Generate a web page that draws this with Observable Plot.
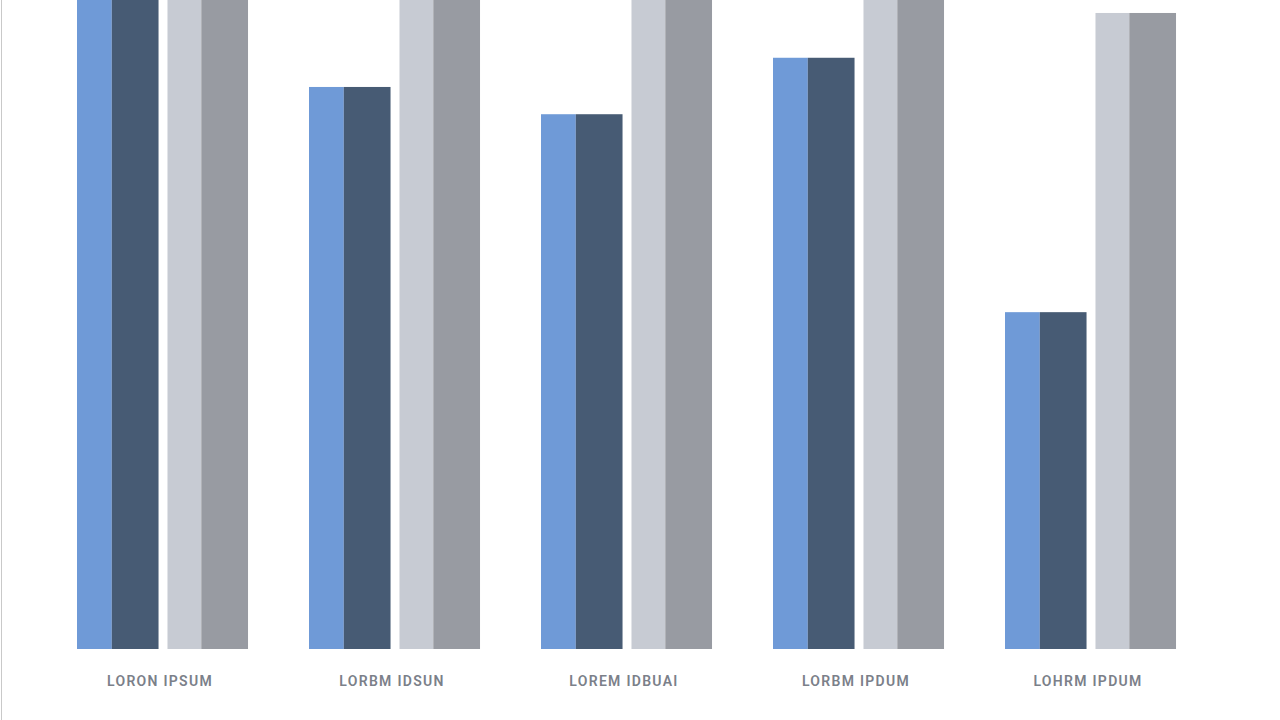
<!DOCTYPE html>
<html>
<head>
<meta charset="utf-8">
<script src="https://cdn.jsdelivr.net/npm/d3@7"></script>
<script src="https://cdn.jsdelivr.net/npm/@observablehq/plot@0.6"></script>
<style>
  html, body { margin: 0; padding: 0; background: #ffffff; }
  #chart { width: 1280px; height: 720px; position: relative; overflow: hidden; }
  #chart::before { content: ""; position: absolute; left: 1px; top: 0; bottom: 0; width: 1px; background: #c9c9c9; }
  #chart svg text { letter-spacing: 1.3px; font-weight: 600; }
</style>
</head>
<body>
<div id="chart"></div>
<script>
// Category labels (as printed under each group)
const groups = ["LORON IPSUM", "LORBM IDSUN", "LOREM IDBUAI", "LORBM IPDUM", "LOHRM IPDUM"];
// Blue series (front + side faces share one value); values above 100 run off the top
const blueValues = [106, 86.6, 82.4, 91.1, 51.9];
// Gray series
const grayValues = [106, 106, 106, 106, 98.0];

// Face names and colours
const faces = ["blue front", "blue side", "gray front", "gray side"];
const faceColors = ["#6f9ad7", "#475b74", "#c7cbd3", "#989ba2"];

// Layout of faces within a group (in group-width units 0..176)
const faceSpan = {
  "blue front": [0, 35],
  "blue side": [35, 82],
  "gray front": [91, 125],
  "gray side": [125, 172]
};

const rows = [];
groups.forEach((g, i) => {
  for (const f of faces) {
    const v = f.startsWith("blue") ? blueValues[i] : grayValues[i];
    rows.push({group: g, face: f, x1: faceSpan[f][0], x2: faceSpan[f][1], value: v});
  }
});

const chart = Plot.plot({
  width: 1280,
  height: 720,
  marginTop: 0,
  marginBottom: 71,
  marginLeft: 76,
  marginRight: 98,
  style: {fontFamily: "Roboto, 'DejaVu Sans', sans-serif", background: "#ffffff"},
  fx: {domain: groups, paddingInner: 0.245, paddingOuter: 0, label: null},
  x: {domain: [0, 176], axis: null},
  y: {domain: [0, 100], axis: null},
  color: {domain: faces, range: faceColors},
  marks: [
    Plot.rectY(rows, {fx: "group", x1: "x1", x2: "x2", y1: 0, y2: "value", fill: "face", clip: true}),
    Plot.axisFx({anchor: "bottom", tickSize: 0, tickPadding: 27, label: null, fontSize: 14, dx: -5, color: "#7b8089"})
  ]
});
document.getElementById("chart").appendChild(chart);
</script>
</body>
</html>
